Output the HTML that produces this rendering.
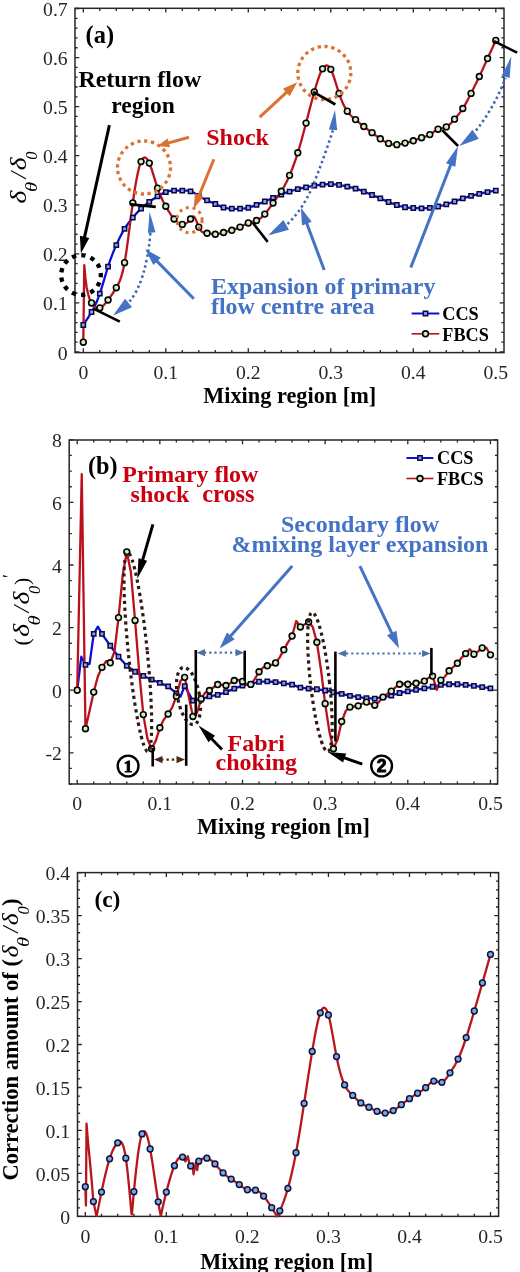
<!DOCTYPE html>
<html><head><meta charset="utf-8"><title>Figure</title>
<style>html,body{margin:0;padding:0;background:#fff;width:520px;height:1272px;overflow:hidden}svg{display:block}</style>
</head><body>
<svg width="520" height="1272" viewBox="0 0 520 1272">
<rect width="520" height="1272" fill="#fff"/>
<rect x="75" y="8.3" width="429" height="344.3" fill="none" stroke="#262626" stroke-width="1.5"/><path d="M83.3 352.6v-4.3M83.3 8.3v4.3M99.8 352.6v-2.6M99.8 8.3v2.6M116.3 352.6v-2.6M116.3 8.3v2.6M132.8 352.6v-2.6M132.8 8.3v2.6M149.3 352.6v-2.6M149.3 8.3v2.6M165.8 352.6v-4.3M165.8 8.3v4.3M182.3 352.6v-2.6M182.3 8.3v2.6M198.8 352.6v-2.6M198.8 8.3v2.6M215.3 352.6v-2.6M215.3 8.3v2.6M231.8 352.6v-2.6M231.8 8.3v2.6M248.3 352.6v-4.3M248.3 8.3v4.3M264.8 352.6v-2.6M264.8 8.3v2.6M281.3 352.6v-2.6M281.3 8.3v2.6M297.8 352.6v-2.6M297.8 8.3v2.6M314.3 352.6v-2.6M314.3 8.3v2.6M330.8 352.6v-4.3M330.8 8.3v4.3M347.3 352.6v-2.6M347.3 8.3v2.6M363.8 352.6v-2.6M363.8 8.3v2.6M380.3 352.6v-2.6M380.3 8.3v2.6M396.8 352.6v-2.6M396.8 8.3v2.6M413.3 352.6v-4.3M413.3 8.3v4.3M429.8 352.6v-2.6M429.8 8.3v2.6M446.3 352.6v-2.6M446.3 8.3v2.6M462.8 352.6v-2.6M462.8 8.3v2.6M479.3 352.6v-2.6M479.3 8.3v2.6M495.8 352.6v-4.3M495.8 8.3v4.3M75 352h4.3M504 352h-4.3M75 342.19h2.6M504 342.19h-2.6M75 332.37h2.6M504 332.37h-2.6M75 322.56h2.6M504 322.56h-2.6M75 312.74h2.6M504 312.74h-2.6M75 302.93h4.3M504 302.93h-4.3M75 293.12h2.6M504 293.12h-2.6M75 283.3h2.6M504 283.3h-2.6M75 273.49h2.6M504 273.49h-2.6M75 263.67h2.6M504 263.67h-2.6M75 253.86h4.3M504 253.86h-4.3M75 244.05h2.6M504 244.05h-2.6M75 234.23h2.6M504 234.23h-2.6M75 224.42h2.6M504 224.42h-2.6M75 214.6h2.6M504 214.6h-2.6M75 204.79h4.3M504 204.79h-4.3M75 194.98h2.6M504 194.98h-2.6M75 185.16h2.6M504 185.16h-2.6M75 175.35h2.6M504 175.35h-2.6M75 165.53h2.6M504 165.53h-2.6M75 155.72h4.3M504 155.72h-4.3M75 145.91h2.6M504 145.91h-2.6M75 136.09h2.6M504 136.09h-2.6M75 126.28h2.6M504 126.28h-2.6M75 116.46h2.6M504 116.46h-2.6M75 106.65h4.3M504 106.65h-4.3M75 96.84h2.6M504 96.84h-2.6M75 87.02h2.6M504 87.02h-2.6M75 77.21h2.6M504 77.21h-2.6M75 67.39h2.6M504 67.39h-2.6M75 57.58h4.3M504 57.58h-4.3M75 47.77h2.6M504 47.77h-2.6M75 37.95h2.6M504 37.95h-2.6M75 28.14h2.6M504 28.14h-2.6M75 18.32h2.6M504 18.32h-2.6M75 8.51h4.3M504 8.51h-4.3" stroke="#262626" stroke-width="1.3" fill="none"/><g font-family="'Liberation Serif','Times New Roman',serif" font-size="19.7" fill="#262626"><text x="83.3" y="378.9" text-anchor="middle">0</text><text x="165.8" y="378.9" text-anchor="middle">0.1</text><text x="248.3" y="378.9" text-anchor="middle">0.2</text><text x="330.8" y="378.9" text-anchor="middle">0.3</text><text x="413.3" y="378.9" text-anchor="middle">0.4</text><text x="495.8" y="378.9" text-anchor="middle">0.5</text><text x="67.7" y="359.5" text-anchor="end">0</text><text x="67.7" y="310.43" text-anchor="end">0.1</text><text x="67.7" y="261.36" text-anchor="end">0.2</text><text x="67.7" y="212.29" text-anchor="end">0.3</text><text x="67.7" y="163.22" text-anchor="end">0.4</text><text x="67.7" y="114.15" text-anchor="end">0.5</text><text x="67.7" y="65.08" text-anchor="end">0.6</text><text x="67.7" y="16.01" text-anchor="end">0.7</text></g>
<path d="M83.3 325.01 L84.12 323.7 L84.95 322.42 L85.77 321.15 L86.6 319.89 L87.42 318.63 L88.25 317.36 L89.08 316.08 L89.9 314.76 L90.72 313.41 L91.55 312.01 L92.38 310.56 L93.2 309.04 L94.03 307.45 L94.85 305.79 L95.67 304.03 L96.5 302.18 L97.33 300.22 L98.15 298.14 L98.97 295.94 L99.8 293.61 L100.62 291.14 L101.45 288.55 L102.28 285.87 L103.1 283.12 L103.92 280.33 L104.75 277.53 L105.57 274.73 L106.4 271.96 L107.22 269.25 L108.05 266.62 L108.88 264.09 L109.7 261.66 L110.53 259.33 L111.35 257.08 L112.17 254.91 L113 252.81 L113.82 250.79 L114.65 248.82 L115.47 246.9 L116.3 245.03 L117.12 243.2 L117.95 241.41 L118.78 239.66 L119.6 237.96 L120.42 236.31 L121.25 234.71 L122.07 233.16 L122.9 231.66 L123.72 230.22 L124.55 228.83 L125.38 227.51 L126.2 226.24 L127.03 225.02 L127.85 223.85 L128.68 222.71 L129.5 221.62 L130.32 220.56 L131.15 219.53 L131.97 218.53 L132.8 217.55 L133.62 216.58 L134.45 215.63 L135.28 214.7 L136.1 213.79 L136.93 212.9 L137.75 212.02 L138.57 211.16 L139.4 210.33 L140.22 209.51 L141.05 208.72 L141.88 207.94 L142.7 207.19 L143.52 206.45 L144.35 205.74 L145.18 205.04 L146 204.37 L146.82 203.71 L147.65 203.07 L148.47 202.45 L149.3 201.85 L150.12 201.26 L150.95 200.68 L151.78 200.13 L152.6 199.58 L153.43 199.04 L154.25 198.51 L155.07 197.99 L155.9 197.47 L156.72 196.96 L157.55 196.45 L158.38 195.94 L159.2 195.43 L160.02 194.94 L160.85 194.45 L161.68 193.98 L162.5 193.54 L163.32 193.11 L164.15 192.72 L164.97 192.36 L165.8 192.03 L166.62 191.75 L167.45 191.5 L168.28 191.28 L169.1 191.1 L169.93 190.95 L170.75 190.83 L171.57 190.73 L172.4 190.66 L173.22 190.6 L174.05 190.56 L174.88 190.53 L175.7 190.52 L176.53 190.52 L177.35 190.52 L178.18 190.53 L179 190.54 L179.82 190.55 L180.65 190.56 L181.48 190.56 L182.3 190.56 L183.12 190.55 L183.95 190.54 L184.77 190.54 L185.6 190.54 L186.43 190.57 L187.25 190.63 L188.07 190.73 L188.9 190.86 L189.72 191.05 L190.55 191.3 L191.38 191.6 L192.2 191.97 L193.03 192.38 L193.85 192.84 L194.68 193.33 L195.5 193.84 L196.32 194.37 L197.15 194.9 L197.98 195.43 L198.8 195.96 L199.62 196.47 L200.45 196.96 L201.28 197.43 L202.1 197.89 L202.92 198.34 L203.75 198.77 L204.57 199.19 L205.4 199.59 L206.22 199.99 L207.05 200.37 L207.88 200.75 L208.7 201.12 L209.52 201.48 L210.35 201.84 L211.18 202.19 L212 202.55 L212.82 202.91 L213.65 203.27 L214.48 203.63 L215.3 204 L216.12 204.38 L216.95 204.77 L217.77 205.15 L218.6 205.53 L219.43 205.9 L220.25 206.26 L221.07 206.61 L221.9 206.93 L222.73 207.22 L223.55 207.49 L224.38 207.72 L225.2 207.92 L226.03 208.1 L226.85 208.24 L227.68 208.37 L228.5 208.47 L229.32 208.55 L230.15 208.62 L230.97 208.67 L231.8 208.72 L232.62 208.75 L233.45 208.77 L234.27 208.79 L235.1 208.8 L235.93 208.8 L236.75 208.8 L237.57 208.79 L238.4 208.77 L239.23 208.74 L240.05 208.72 L240.88 208.68 L241.7 208.64 L242.52 208.58 L243.35 208.52 L244.18 208.44 L245 208.34 L245.82 208.23 L246.65 208.09 L247.48 207.92 L248.3 207.73 L249.12 207.52 L249.95 207.27 L250.78 207.01 L251.6 206.72 L252.43 206.42 L253.25 206.11 L254.07 205.78 L254.9 205.45 L255.72 205.12 L256.55 204.79 L257.38 204.46 L258.2 204.13 L259.02 203.81 L259.85 203.48 L260.68 203.16 L261.5 202.83 L262.32 202.51 L263.15 202.18 L263.98 201.84 L264.8 201.5 L265.62 201.16 L266.45 200.81 L267.27 200.45 L268.1 200.09 L268.93 199.73 L269.75 199.37 L270.57 199.01 L271.4 198.64 L272.23 198.28 L273.05 197.92 L273.88 197.56 L274.7 197.2 L275.53 196.85 L276.35 196.5 L277.18 196.15 L278 195.81 L278.82 195.47 L279.65 195.14 L280.48 194.81 L281.3 194.49 L282.12 194.17 L282.95 193.86 L283.77 193.55 L284.6 193.25 L285.43 192.96 L286.25 192.66 L287.07 192.38 L287.9 192.1 L288.73 191.82 L289.55 191.54 L290.38 191.27 L291.2 191 L292.02 190.74 L292.85 190.48 L293.68 190.23 L294.5 189.98 L295.32 189.75 L296.15 189.52 L296.98 189.3 L297.8 189.09 L298.62 188.89 L299.45 188.7 L300.28 188.51 L301.1 188.34 L301.93 188.16 L302.75 187.99 L303.57 187.83 L304.4 187.66 L305.23 187.49 L306.05 187.32 L306.88 187.15 L307.7 186.97 L308.53 186.79 L309.35 186.62 L310.18 186.44 L311 186.27 L311.82 186.11 L312.65 185.95 L313.48 185.79 L314.3 185.65 L315.12 185.52 L315.95 185.4 L316.78 185.29 L317.6 185.18 L318.43 185.09 L319.25 185 L320.08 184.91 L320.9 184.83 L321.72 184.75 L322.55 184.67 L323.38 184.59 L324.2 184.52 L325.02 184.45 L325.85 184.38 L326.68 184.33 L327.5 184.27 L328.32 184.23 L329.15 184.2 L329.97 184.18 L330.8 184.18 L331.62 184.19 L332.45 184.22 L333.27 184.26 L334.1 184.31 L334.93 184.38 L335.75 184.46 L336.57 184.56 L337.4 184.66 L338.23 184.78 L339.05 184.92 L339.88 185.06 L340.7 185.21 L341.53 185.38 L342.35 185.55 L343.18 185.72 L344 185.9 L344.82 186.08 L345.65 186.27 L346.48 186.45 L347.3 186.63 L348.12 186.81 L348.95 186.99 L349.78 187.17 L350.6 187.36 L351.43 187.54 L352.25 187.74 L353.08 187.94 L353.9 188.14 L354.73 188.36 L355.55 188.6 L356.38 188.84 L357.2 189.1 L358.03 189.38 L358.85 189.66 L359.68 189.95 L360.5 190.26 L361.33 190.57 L362.15 190.89 L362.98 191.21 L363.8 191.54 L364.63 191.88 L365.45 192.21 L366.28 192.56 L367.1 192.9 L367.93 193.25 L368.75 193.59 L369.58 193.94 L370.4 194.29 L371.23 194.63 L372.05 194.98 L372.88 195.32 L373.7 195.66 L374.52 196 L375.35 196.34 L376.18 196.68 L377 197.02 L377.82 197.36 L378.65 197.71 L379.48 198.06 L380.3 198.41 L381.12 198.77 L381.95 199.13 L382.77 199.5 L383.6 199.86 L384.43 200.23 L385.25 200.59 L386.07 200.95 L386.9 201.31 L387.73 201.65 L388.55 201.99 L389.38 202.32 L390.2 202.65 L391.03 202.96 L391.85 203.27 L392.68 203.57 L393.5 203.86 L394.32 204.15 L395.15 204.43 L395.98 204.71 L396.8 204.99 L397.62 205.26 L398.45 205.52 L399.28 205.78 L400.1 206.04 L400.93 206.28 L401.75 206.5 L402.58 206.71 L403.4 206.91 L404.23 207.09 L405.05 207.24 L405.88 207.38 L406.7 207.49 L407.53 207.59 L408.35 207.67 L409.18 207.74 L410 207.8 L410.83 207.85 L411.65 207.89 L412.48 207.94 L413.3 207.98 L414.13 208.02 L414.95 208.07 L415.78 208.11 L416.6 208.16 L417.43 208.2 L418.25 208.24 L419.08 208.27 L419.9 208.3 L420.73 208.31 L421.55 208.32 L422.38 208.32 L423.2 208.31 L424.03 208.29 L424.85 208.26 L425.68 208.22 L426.5 208.17 L427.32 208.11 L428.15 208.05 L428.98 207.97 L429.8 207.88 L430.62 207.79 L431.45 207.68 L432.27 207.56 L433.1 207.44 L433.93 207.31 L434.75 207.17 L435.57 207.01 L436.4 206.85 L437.23 206.69 L438.05 206.51 L438.88 206.32 L439.7 206.13 L440.53 205.92 L441.35 205.71 L442.18 205.49 L443 205.27 L443.82 205.03 L444.65 204.79 L445.48 204.55 L446.3 204.3 L447.12 204.04 L447.95 203.78 L448.78 203.52 L449.6 203.25 L450.43 202.97 L451.25 202.69 L452.08 202.4 L452.9 202.11 L453.73 201.81 L454.55 201.5 L455.38 201.19 L456.2 200.88 L457.03 200.56 L457.85 200.24 L458.68 199.92 L459.5 199.61 L460.33 199.3 L461.15 199 L461.98 198.7 L462.8 198.41 L463.63 198.13 L464.45 197.87 L465.28 197.61 L466.1 197.36 L466.93 197.11 L467.75 196.87 L468.58 196.64 L469.4 196.41 L470.23 196.18 L471.05 195.96 L471.88 195.73 L472.7 195.51 L473.53 195.28 L474.35 195.06 L475.18 194.84 L476 194.63 L476.83 194.41 L477.65 194.2 L478.48 194 L479.3 193.8 L480.12 193.6 L480.95 193.41 L481.77 193.22 L482.6 193.04 L483.43 192.87 L484.25 192.69 L485.07 192.52 L485.9 192.35 L486.73 192.19 L487.55 192.03 L488.38 191.87 L489.2 191.72 L490.03 191.57 L490.85 191.42 L491.68 191.27 L492.5 191.13 L493.32 190.98 L494.15 190.84 L494.98 190.7 L495.8 190.56" fill="none" stroke="#0A10DC" stroke-width="2.3" stroke-linejoin="round"/>
<path d="M83.3 342.19 L84.29 265.15 L85.36 277.41 L86.6 287.23 L88.25 294.59 L89.9 299.99 L91.55 302.93 L92.38 304.29 L93.2 305.43 L94.03 306.35 L94.85 307.08 L95.67 307.62 L96.5 307.98 L97.33 308.17 L98.15 308.2 L98.97 308.09 L99.8 307.84 L100.62 307.46 L101.45 306.96 L102.28 306.35 L103.1 305.65 L103.92 304.86 L104.75 304 L105.58 303.07 L106.4 302.08 L107.22 301.05 L108.05 299.99 L108.88 298.89 L109.7 297.77 L110.53 296.63 L111.35 295.45 L112.17 294.24 L113 293.01 L113.82 291.74 L114.65 290.43 L115.47 289.09 L116.3 287.72 L117.12 286.3 L117.95 284.78 L118.78 283.12 L119.6 281.25 L120.43 279.12 L121.25 276.68 L122.07 273.88 L122.9 270.65 L123.72 266.94 L124.55 262.69 L125.38 257.88 L126.2 252.58 L127.03 246.86 L127.85 240.82 L128.68 234.55 L129.5 228.13 L130.32 221.67 L131.15 215.23 L131.97 208.92 L132.8 202.83 L133.62 197.02 L134.45 191.54 L135.28 186.4 L136.1 181.62 L136.93 177.22 L137.75 173.22 L138.57 169.64 L139.4 166.5 L140.22 163.81 L141.05 161.61 L141.88 159.89 L142.7 158.65 L143.52 157.86 L144.35 157.5 L145.18 157.55 L146 157.98 L146.82 158.77 L147.65 159.9 L148.47 161.34 L149.3 163.08 L150.12 165.09 L150.95 167.32 L151.77 169.73 L152.6 172.29 L153.43 174.94 L154.25 177.64 L155.07 180.35 L155.9 183.03 L156.72 185.63 L157.55 188.11 L158.38 190.43 L159.2 192.6 L160.02 194.63 L160.85 196.54 L161.68 198.35 L162.5 200.06 L163.32 201.69 L164.15 203.26 L164.97 204.78 L165.8 206.26 L166.62 207.72 L167.45 209.16 L168.27 210.56 L169.1 211.93 L169.93 213.25 L170.75 214.53 L171.57 215.75 L172.4 216.9 L173.22 218 L174.05 219.02 L174.88 219.97 L175.7 220.83 L176.53 221.61 L177.35 222.3 L178.17 222.9 L179 223.41 L179.82 223.82 L180.65 224.12 L181.47 224.32 L182.3 224.42 L183.12 224.4 L183.95 224.27 L184.77 224.02 L185.6 223.66 L186.43 223.19 L187.25 222.59 L188.07 221.88 L188.9 221.05 L189.72 220.1 L190.55 219.02 L191.38 217.87 L192.2 216.88 L193.03 216.34 L193.85 216.51 L194.68 217.46 L195.5 218.98 L196.32 220.9 L197.15 223.03 L197.98 225.16 L198.8 227.12 L199.62 228.74 L200.45 230.03 L201.28 231.04 L202.1 231.79 L202.93 232.33 L203.75 232.69 L204.58 232.93 L205.4 233.08 L206.23 233.17 L207.05 233.25 L207.88 233.35 L208.7 233.47 L209.53 233.6 L210.35 233.74 L211.18 233.88 L212 234 L212.82 234.11 L213.65 234.18 L214.48 234.23 L215.3 234.23 L216.12 234.19 L216.95 234.1 L217.77 233.98 L218.6 233.82 L219.43 233.63 L220.25 233.43 L221.07 233.21 L221.9 232.98 L222.73 232.75 L223.55 232.51 L224.38 232.29 L225.2 232.07 L226.03 231.86 L226.85 231.64 L227.68 231.43 L228.5 231.22 L229.32 231 L230.15 230.78 L230.98 230.55 L231.8 230.31 L232.62 230.06 L233.45 229.8 L234.28 229.52 L235.1 229.23 L235.93 228.93 L236.75 228.6 L237.57 228.26 L238.4 227.9 L239.23 227.52 L240.05 227.12 L240.88 226.69 L241.7 226.25 L242.52 225.8 L243.35 225.34 L244.18 224.89 L245 224.46 L245.82 224.03 L246.65 223.64 L247.48 223.27 L248.3 222.95 L249.12 222.66 L249.95 222.41 L250.78 222.19 L251.6 221.98 L252.43 221.78 L253.25 221.57 L254.07 221.35 L254.9 221.1 L255.73 220.82 L256.55 220.49 L257.38 220.11 L258.2 219.68 L259.03 219.19 L259.85 218.64 L260.68 218.03 L261.5 217.37 L262.33 216.64 L263.15 215.86 L263.98 215.02 L264.8 214.11 L265.62 213.15 L266.45 212.13 L267.27 211.07 L268.1 209.97 L268.93 208.84 L269.75 207.68 L270.57 206.52 L271.4 205.35 L272.23 204.18 L273.05 203.02 L273.88 201.88 L274.7 200.75 L275.53 199.63 L276.35 198.5 L277.18 197.37 L278 196.21 L278.82 195.04 L279.65 193.83 L280.48 192.59 L281.3 191.3 L282.12 189.96 L282.95 188.56 L283.78 187.11 L284.6 185.61 L285.43 184.05 L286.25 182.43 L287.08 180.75 L287.9 179.01 L288.73 177.21 L289.55 175.35 L290.38 173.42 L291.2 171.42 L292.02 169.36 L292.85 167.22 L293.68 165.01 L294.5 162.72 L295.32 160.36 L296.15 157.91 L296.98 155.39 L297.8 152.78 L298.62 150.08 L299.45 147.3 L300.28 144.46 L301.1 141.54 L301.93 138.57 L302.75 135.55 L303.57 132.48 L304.4 129.38 L305.23 126.24 L306.05 123.09 L306.88 119.92 L307.7 116.74 L308.53 113.56 L309.35 110.38 L310.18 107.22 L311 104.09 L311.82 100.98 L312.65 97.92 L313.48 94.9 L314.3 91.93 L315.12 89.02 L315.95 86.2 L316.78 83.48 L317.6 80.88 L318.43 78.41 L319.25 76.11 L320.08 73.98 L320.9 72.05 L321.73 70.34 L322.55 68.87 L323.38 67.65 L324.2 66.69 L325.03 66 L325.85 65.59 L326.68 65.47 L327.5 65.64 L328.33 66.1 L329.15 66.87 L329.97 67.95 L330.8 69.36 L331.62 71.08 L332.45 73.07 L333.27 75.3 L334.1 77.72 L334.93 80.27 L335.75 82.91 L336.57 85.59 L337.4 88.26 L338.23 90.88 L339.05 93.4 L339.88 95.78 L340.7 98.02 L341.53 100.11 L342.35 102.07 L343.18 103.9 L344 105.6 L344.82 107.18 L345.65 108.64 L346.48 109.98 L347.3 111.21 L348.12 112.34 L348.95 113.38 L349.78 114.32 L350.6 115.2 L351.43 116.02 L352.25 116.79 L353.08 117.52 L353.9 118.23 L354.73 118.92 L355.55 119.6 L356.38 120.3 L357.2 121 L358.03 121.7 L358.85 122.41 L359.68 123.11 L360.5 123.81 L361.33 124.5 L362.15 125.19 L362.98 125.86 L363.8 126.52 L364.63 127.17 L365.45 127.8 L366.28 128.42 L367.1 129.04 L367.93 129.64 L368.75 130.24 L369.58 130.84 L370.4 131.45 L371.23 132.05 L372.05 132.66 L372.88 133.27 L373.7 133.89 L374.53 134.52 L375.35 135.14 L376.18 135.76 L377 136.38 L377.83 137 L378.65 137.61 L379.48 138.2 L380.3 138.79 L381.13 139.36 L381.95 139.92 L382.77 140.46 L383.6 140.97 L384.43 141.46 L385.25 141.93 L386.07 142.36 L386.9 142.76 L387.73 143.13 L388.55 143.45 L389.38 143.74 L390.2 143.98 L391.03 144.19 L391.85 144.36 L392.68 144.49 L393.5 144.58 L394.32 144.64 L395.15 144.67 L395.98 144.67 L396.8 144.63 L397.62 144.56 L398.45 144.47 L399.28 144.35 L400.1 144.22 L400.93 144.06 L401.75 143.89 L402.58 143.7 L403.4 143.51 L404.23 143.31 L405.05 143.11 L405.88 142.91 L406.7 142.7 L407.53 142.49 L408.35 142.28 L409.18 142.06 L410 141.83 L410.83 141.59 L411.65 141.34 L412.48 141.08 L413.3 140.8 L414.13 140.51 L414.95 140.2 L415.78 139.89 L416.6 139.56 L417.43 139.24 L418.25 138.92 L419.08 138.6 L419.9 138.29 L420.73 137.99 L421.55 137.71 L422.38 137.45 L423.2 137.2 L424.03 136.95 L424.85 136.69 L425.68 136.43 L426.5 136.14 L427.33 135.82 L428.15 135.47 L428.98 135.07 L429.8 134.62 L430.63 134.11 L431.45 133.55 L432.28 132.97 L433.1 132.36 L433.93 131.76 L434.75 131.16 L435.57 130.6 L436.4 130.08 L437.23 129.61 L438.05 129.22 L438.88 128.91 L439.7 128.67 L440.53 128.48 L441.35 128.32 L442.18 128.17 L443 128.01 L443.82 127.82 L444.65 127.59 L445.48 127.3 L446.3 126.92 L447.12 126.44 L447.95 125.87 L448.78 125.21 L449.6 124.48 L450.43 123.69 L451.25 122.85 L452.08 121.97 L452.9 121.05 L453.73 120.11 L454.55 119.16 L455.38 118.21 L456.2 117.25 L457.03 116.27 L457.85 115.28 L458.68 114.25 L459.5 113.2 L460.33 112.1 L461.15 110.96 L461.98 109.77 L462.8 108.51 L463.63 107.2 L464.45 105.83 L465.28 104.4 L466.1 102.92 L466.93 101.41 L467.75 99.85 L468.58 98.27 L469.4 96.66 L470.23 95.04 L471.05 93.4 L471.88 91.76 L472.7 90.1 L473.53 88.44 L474.35 86.77 L475.18 85.09 L476 83.4 L476.83 81.7 L477.65 79.99 L478.48 78.26 L479.3 76.52 L480.13 74.77 L480.95 73 L481.78 71.23 L482.6 69.44 L483.43 67.64 L484.25 65.84 L485.08 64.02 L485.9 62.21 L486.73 60.39 L487.55 58.56 L488.38 56.73 L489.2 54.91 L490.03 53.08 L490.85 51.26 L491.68 49.43 L492.5 47.61 L493.32 45.8 L494.15 43.99 L494.98 42.2 L495.8 40.41" fill="none" stroke="#BA121C" stroke-width="2.3" stroke-linejoin="round"/>
<path d="M81.15 322.86h4.3v4.3h-4.3zM89.4 309.86h4.3v4.3h-4.3zM97.65 291.46h4.3v4.3h-4.3zM105.9 264.47h4.3v4.3h-4.3zM114.15 242.88h4.3v4.3h-4.3zM122.4 226.68h4.3v4.3h-4.3zM130.65 215.4h4.3v4.3h-4.3zM138.9 206.57h4.3v4.3h-4.3zM147.15 199.7h4.3v4.3h-4.3zM155.4 194.3h4.3v4.3h-4.3zM163.65 189.88h4.3v4.3h-4.3zM171.9 188.41h4.3v4.3h-4.3zM180.15 188.41h4.3v4.3h-4.3zM188.4 189.15h4.3v4.3h-4.3zM196.65 193.81h4.3v4.3h-4.3zM204.9 198.22h4.3v4.3h-4.3zM213.15 201.85h4.3v4.3h-4.3zM221.4 205.34h4.3v4.3h-4.3zM229.65 206.57h4.3v4.3h-4.3zM237.9 206.57h4.3v4.3h-4.3zM246.15 205.58h4.3v4.3h-4.3zM254.4 202.64h4.3v4.3h-4.3zM262.65 199.35h4.3v4.3h-4.3zM270.9 195.77h4.3v4.3h-4.3zM279.15 192.34h4.3v4.3h-4.3zM287.4 189.39h4.3v4.3h-4.3zM295.65 186.94h4.3v4.3h-4.3zM303.9 185.17h4.3v4.3h-4.3zM312.15 183.5h4.3v4.3h-4.3zM320.4 182.52h4.3v4.3h-4.3zM328.65 182.03h4.3v4.3h-4.3zM336.9 182.77h4.3v4.3h-4.3zM345.15 184.48h4.3v4.3h-4.3zM353.4 186.45h4.3v4.3h-4.3zM361.65 189.39h4.3v4.3h-4.3zM369.9 192.83h4.3v4.3h-4.3zM378.15 196.26h4.3v4.3h-4.3zM386.4 199.84h4.3v4.3h-4.3zM394.65 202.84h4.3v4.3h-4.3zM402.9 205.09h4.3v4.3h-4.3zM411.15 205.83h4.3v4.3h-4.3zM419.4 206.17h4.3v4.3h-4.3zM427.65 205.73h4.3v4.3h-4.3zM435.9 204.36h4.3v4.3h-4.3zM444.15 202.15h4.3v4.3h-4.3zM452.4 199.35h4.3v4.3h-4.3zM460.65 196.26h4.3v4.3h-4.3zM468.9 193.81h4.3v4.3h-4.3zM477.15 191.65h4.3v4.3h-4.3zM485.4 189.88h4.3v4.3h-4.3zM493.65 188.41h4.3v4.3h-4.3z" fill="#929CEE" stroke="#08083C" stroke-width="1.5"/>
<g fill="#CDEFC4" stroke="#000" stroke-width="1.6"><circle cx="83.3" cy="342.19" r="2.9"/><circle cx="91.55" cy="302.93" r="2.9"/><circle cx="99.8" cy="307.84" r="2.9"/><circle cx="108.05" cy="299.99" r="2.9"/><circle cx="116.3" cy="287.72" r="2.9"/><circle cx="124.55" cy="262.69" r="2.9"/><circle cx="132.8" cy="202.83" r="2.9"/><circle cx="141.05" cy="161.61" r="2.9"/><circle cx="149.3" cy="163.08" r="2.9"/><circle cx="157.55" cy="188.11" r="2.9"/><circle cx="165.8" cy="206.26" r="2.9"/><circle cx="174.05" cy="219.02" r="2.9"/><circle cx="182.3" cy="224.42" r="2.9"/><circle cx="190.55" cy="219.02" r="2.9"/><circle cx="198.8" cy="227.12" r="2.9"/><circle cx="207.05" cy="233.25" r="2.9"/><circle cx="215.3" cy="234.23" r="2.9"/><circle cx="223.55" cy="232.51" r="2.9"/><circle cx="231.8" cy="230.31" r="2.9"/><circle cx="240.05" cy="227.12" r="2.9"/><circle cx="248.3" cy="222.95" r="2.9"/><circle cx="256.55" cy="220.49" r="2.9"/><circle cx="264.8" cy="214.11" r="2.9"/><circle cx="273.05" cy="203.02" r="2.9"/><circle cx="281.3" cy="191.3" r="2.9"/><circle cx="289.55" cy="175.35" r="2.9"/><circle cx="297.8" cy="152.78" r="2.9"/><circle cx="306.05" cy="123.09" r="2.9"/><circle cx="314.3" cy="91.93" r="2.9"/><circle cx="322.55" cy="68.87" r="2.9"/><circle cx="330.8" cy="69.36" r="2.9"/><circle cx="339.05" cy="93.4" r="2.9"/><circle cx="347.3" cy="111.21" r="2.9"/><circle cx="355.55" cy="119.6" r="2.9"/><circle cx="363.8" cy="126.52" r="2.9"/><circle cx="372.05" cy="132.66" r="2.9"/><circle cx="380.3" cy="138.79" r="2.9"/><circle cx="388.55" cy="143.45" r="2.9"/><circle cx="396.8" cy="144.63" r="2.9"/><circle cx="405.05" cy="143.11" r="2.9"/><circle cx="413.3" cy="140.8" r="2.9"/><circle cx="421.55" cy="137.71" r="2.9"/><circle cx="429.8" cy="134.62" r="2.9"/><circle cx="438.05" cy="129.22" r="2.9"/><circle cx="446.3" cy="126.92" r="2.9"/><circle cx="454.55" cy="119.16" r="2.9"/><circle cx="462.8" cy="108.51" r="2.9"/><circle cx="471.05" cy="93.4" r="2.9"/><circle cx="479.3" cy="76.52" r="2.9"/><circle cx="487.55" cy="58.56" r="2.9"/><circle cx="495.8" cy="40.41" r="2.9"/></g>
<rect x="69.2" y="440" width="428.4" height="344" fill="none" stroke="#262626" stroke-width="1.5"/><path d="M77.2 784v-4.3M77.2 440v4.3M93.73 784v-2.6M93.73 440v2.6M110.26 784v-2.6M110.26 440v2.6M126.79 784v-2.6M126.79 440v2.6M143.32 784v-2.6M143.32 440v2.6M159.85 784v-4.3M159.85 440v4.3M176.38 784v-2.6M176.38 440v2.6M192.91 784v-2.6M192.91 440v2.6M209.44 784v-2.6M209.44 440v2.6M225.97 784v-2.6M225.97 440v2.6M242.5 784v-4.3M242.5 440v4.3M259.03 784v-2.6M259.03 440v2.6M275.56 784v-2.6M275.56 440v2.6M292.09 784v-2.6M292.09 440v2.6M308.62 784v-2.6M308.62 440v2.6M325.15 784v-4.3M325.15 440v4.3M341.68 784v-2.6M341.68 440v2.6M358.21 784v-2.6M358.21 440v2.6M374.74 784v-2.6M374.74 440v2.6M391.27 784v-2.6M391.27 440v2.6M407.8 784v-4.3M407.8 440v4.3M424.33 784v-2.6M424.33 440v2.6M440.86 784v-2.6M440.86 440v2.6M457.39 784v-2.6M457.39 440v2.6M473.92 784v-2.6M473.92 440v2.6M490.45 784v-4.3M490.45 440v4.3M69.2 784.1h2.6M497.6 784.1h-2.6M69.2 768.45h2.6M497.6 768.45h-2.6M69.2 752.8h4.3M497.6 752.8h-4.3M69.2 737.15h2.6M497.6 737.15h-2.6M69.2 721.5h2.6M497.6 721.5h-2.6M69.2 705.85h2.6M497.6 705.85h-2.6M69.2 690.2h4.3M497.6 690.2h-4.3M69.2 674.55h2.6M497.6 674.55h-2.6M69.2 658.9h2.6M497.6 658.9h-2.6M69.2 643.25h2.6M497.6 643.25h-2.6M69.2 627.6h4.3M497.6 627.6h-4.3M69.2 611.95h2.6M497.6 611.95h-2.6M69.2 596.3h2.6M497.6 596.3h-2.6M69.2 580.65h2.6M497.6 580.65h-2.6M69.2 565h4.3M497.6 565h-4.3M69.2 549.35h2.6M497.6 549.35h-2.6M69.2 533.7h2.6M497.6 533.7h-2.6M69.2 518.05h2.6M497.6 518.05h-2.6M69.2 502.4h4.3M497.6 502.4h-4.3M69.2 486.75h2.6M497.6 486.75h-2.6M69.2 471.1h2.6M497.6 471.1h-2.6M69.2 455.45h2.6M497.6 455.45h-2.6M69.2 439.8h4.3M497.6 439.8h-4.3" stroke="#262626" stroke-width="1.3" fill="none"/><g font-family="'Liberation Serif','Times New Roman',serif" font-size="19.7" fill="#262626"><text x="77.2" y="810.3" text-anchor="middle">0</text><text x="159.85" y="810.3" text-anchor="middle">0.1</text><text x="242.5" y="810.3" text-anchor="middle">0.2</text><text x="325.15" y="810.3" text-anchor="middle">0.3</text><text x="407.8" y="810.3" text-anchor="middle">0.4</text><text x="490.45" y="810.3" text-anchor="middle">0.5</text><text x="61.9" y="760.3" text-anchor="end">-2</text><text x="61.9" y="697.7" text-anchor="end">0</text><text x="61.9" y="635.1" text-anchor="end">2</text><text x="61.9" y="572.5" text-anchor="end">4</text><text x="61.9" y="509.9" text-anchor="end">6</text><text x="61.9" y="447.3" text-anchor="end">8</text></g>
<path d="M77.2 690.2 L81.33 656.71 L85.47 664.85 L89.6 663.91 L93.73 633.86 L97.86 626.66 L102 633.86 L106.13 639.81 L110.26 645.75 L114.39 651.23 L118.53 656.71 L122.66 661.25 L126.79 665.79 L130.92 668.76 L135.06 671.73 L139.19 673.77 L143.32 675.8 L147.45 677.68 L151.58 679.56 L155.72 681.2 L159.85 682.84 L163.98 684.64 L168.12 686.44 L172.25 689.89 L176.38 693.33 L180.51 696.46 L184.65 686.13 L188.78 693.33 L192.91 700.53 L197.04 699.9 L201.18 699.28 L205.31 697.87 L209.44 696.46 L213.57 695.68 L217.71 694.9 L221.84 693.49 L225.97 692.08 L230.1 690.36 L234.24 688.63 L238.37 687.07 L242.5 685.5 L246.63 684.72 L250.76 683.94 L254.9 682.84 L259.03 681.75 L263.16 681.59 L267.3 681.44 L271.43 681.75 L275.56 682.06 L279.69 682.69 L283.82 683.31 L287.96 683.94 L292.09 684.57 L296.22 686.13 L300.36 687.7 L304.49 688.17 L308.62 688.63 L312.75 688.95 L316.88 689.26 L321.02 689.89 L325.15 690.51 L329.28 691.37 L333.41 692.23 L337.55 693.1 L341.68 693.96 L345.81 694.9 L349.94 695.83 L354.08 696.46 L358.21 697.09 L362.34 697.56 L366.47 698.03 L370.61 698.34 L374.74 698.65 L378.87 697.87 L383 697.09 L387.14 696.3 L391.27 695.52 L395.4 694.27 L399.54 693.02 L403.67 692.23 L407.8 691.45 L411.93 690.67 L416.06 689.89 L420.2 689.1 L424.33 688.32 L428.46 687.54 L432.59 686.76 L436.73 685.82 L440.86 684.88 L444.99 684.57 L449.12 684.25 L453.26 684.25 L457.39 684.25 L461.52 684.57 L465.65 684.88 L469.79 685.35 L473.92 685.82 L478.05 686.44 L482.19 687.07 L486.32 687.7 L490.45 688.32" fill="none" stroke="#0A10DC" stroke-width="2.3" stroke-linejoin="round"/>
<path d="M77.2 690.2 L81.75 474.23 L85.47 728.7 L89.6 710.7 L93.73 692.08 L97.86 676.43 L102 667.35 L106.13 661.09 L110.26 662.81 L114.39 652.01 L118.53 617.58 L122.66 575.55 L126.79 551.85 L130.92 572.32 L135.06 620.4 L139.19 671.93 L143.32 714.61 L147.45 738.72 L151.58 748.73 L155.72 740.86 L159.85 727.76 L163.98 719.34 L168.12 713.99 L172.25 707.41 L176.38 696.15 L180.51 680.8 L184.65 677.37 L188.78 696.46 L192.91 716.49 L197.04 712.72 L201.18 698.96 L205.31 692.48 L209.44 690.51 L213.57 687.25 L217.71 684.57 L221.84 684.94 L225.97 685.5 L230.1 683.32 L234.24 680.5 L238.37 679.8 L242.5 681.44 L246.63 684.28 L250.76 684.41 L254.9 678.9 L259.03 671.73 L263.16 667.44 L267.3 665.79 L271.43 665.14 L275.56 662.97 L279.69 657.37 L283.82 649.82 L287.96 642.4 L292.09 636.05 L296.22 621.03 L300.36 626.97 L304.49 624.47 L308.62 621.97 L312.75 627.02 L316.88 642.31 L321.02 669.96 L325.15 703.66 L329.28 730.89 L333.41 748.73 L337.55 739.6 L341.68 721.5 L345.81 710.74 L349.94 707.1 L354.08 706.49 L358.21 705.85 L362.34 703.47 L366.47 702.09 L370.61 703.99 L374.74 705.22 L378.87 701.98 L383 697.09 L387.14 693.88 L391.27 691.14 L395.4 687.33 L399.54 684.25 L403.67 683.74 L407.8 684.25 L411.93 683.98 L416.06 683.31 L420.2 682.75 L424.33 681.12 L428.46 677.81 L432.59 676.12 L436.73 689.89 L440.86 680.18 L444.99 676.5 L449.12 670.79 L453.26 666.99 L457.39 663.28 L461.52 657.74 L465.65 653.58 L469.79 649.2 L473.92 654.21 L478.05 651.47 L482.19 647.95 L486.32 647.71 L490.45 654.83" fill="none" stroke="#BA121C" stroke-width="2.3" stroke-linejoin="round"/>
<path d="M75.05 688.05h4.3v4.3h-4.3zM83.31 662.7h4.3v4.3h-4.3zM91.58 631.71h4.3v4.3h-4.3zM99.84 631.71h4.3v4.3h-4.3zM108.11 643.6h4.3v4.3h-4.3zM116.38 654.56h4.3v4.3h-4.3zM124.64 663.64h4.3v4.3h-4.3zM132.91 669.58h4.3v4.3h-4.3zM141.17 673.65h4.3v4.3h-4.3zM149.43 677.41h4.3v4.3h-4.3zM157.7 680.69h4.3v4.3h-4.3zM165.97 684.29h4.3v4.3h-4.3zM174.23 691.18h4.3v4.3h-4.3zM182.5 683.98h4.3v4.3h-4.3zM190.76 698.38h4.3v4.3h-4.3zM199.03 697.13h4.3v4.3h-4.3zM207.29 694.31h4.3v4.3h-4.3zM215.56 692.75h4.3v4.3h-4.3zM223.82 689.93h4.3v4.3h-4.3zM232.09 686.49h4.3v4.3h-4.3zM240.35 683.36h4.3v4.3h-4.3zM248.61 681.79h4.3v4.3h-4.3zM256.88 679.6h4.3v4.3h-4.3zM265.15 679.29h4.3v4.3h-4.3zM273.41 679.91h4.3v4.3h-4.3zM281.68 681.16h4.3v4.3h-4.3zM289.94 682.42h4.3v4.3h-4.3zM298.21 685.55h4.3v4.3h-4.3zM306.47 686.49h4.3v4.3h-4.3zM314.74 687.11h4.3v4.3h-4.3zM323 688.36h4.3v4.3h-4.3zM331.26 690.08h4.3v4.3h-4.3zM339.53 691.81h4.3v4.3h-4.3zM347.8 693.68h4.3v4.3h-4.3zM356.06 694.94h4.3v4.3h-4.3zM364.32 695.88h4.3v4.3h-4.3zM372.59 696.5h4.3v4.3h-4.3zM380.86 694.94h4.3v4.3h-4.3zM389.12 693.37h4.3v4.3h-4.3zM397.39 690.87h4.3v4.3h-4.3zM405.65 689.3h4.3v4.3h-4.3zM413.91 687.74h4.3v4.3h-4.3zM422.18 686.17h4.3v4.3h-4.3zM430.44 684.61h4.3v4.3h-4.3zM438.71 682.73h4.3v4.3h-4.3zM446.98 682.1h4.3v4.3h-4.3zM455.24 682.1h4.3v4.3h-4.3zM463.5 682.73h4.3v4.3h-4.3zM471.77 683.67h4.3v4.3h-4.3zM480.04 684.92h4.3v4.3h-4.3zM488.3 686.17h4.3v4.3h-4.3z" fill="#929CEE" stroke="#08083C" stroke-width="1.5"/>
<g fill="#CDEFC4" stroke="#000" stroke-width="1.6"><circle cx="77.2" cy="690.2" r="2.9"/><circle cx="85.47" cy="728.7" r="2.9"/><circle cx="93.73" cy="692.08" r="2.9"/><circle cx="102" cy="667.35" r="2.9"/><circle cx="110.26" cy="662.81" r="2.9"/><circle cx="118.53" cy="617.58" r="2.9"/><circle cx="126.79" cy="551.85" r="2.9"/><circle cx="135.06" cy="620.4" r="2.9"/><circle cx="143.32" cy="714.61" r="2.9"/><circle cx="151.58" cy="748.73" r="2.9"/><circle cx="159.85" cy="727.76" r="2.9"/><circle cx="168.12" cy="713.99" r="2.9"/><circle cx="176.38" cy="696.15" r="2.9"/><circle cx="184.65" cy="677.37" r="2.9"/><circle cx="192.91" cy="716.49" r="2.9"/><circle cx="201.18" cy="698.96" r="2.9"/><circle cx="209.44" cy="690.51" r="2.9"/><circle cx="217.71" cy="684.57" r="2.9"/><circle cx="225.97" cy="685.5" r="2.9"/><circle cx="234.24" cy="680.5" r="2.9"/><circle cx="242.5" cy="681.44" r="2.9"/><circle cx="250.76" cy="684.41" r="2.9"/><circle cx="259.03" cy="671.73" r="2.9"/><circle cx="267.3" cy="665.79" r="2.9"/><circle cx="275.56" cy="662.97" r="2.9"/><circle cx="283.82" cy="649.82" r="2.9"/><circle cx="292.09" cy="636.05" r="2.9"/><circle cx="300.36" cy="626.97" r="2.9"/><circle cx="308.62" cy="621.97" r="2.9"/><circle cx="316.88" cy="642.31" r="2.9"/><circle cx="325.15" cy="703.66" r="2.9"/><circle cx="333.41" cy="748.73" r="2.9"/><circle cx="341.68" cy="721.5" r="2.9"/><circle cx="349.94" cy="707.1" r="2.9"/><circle cx="358.21" cy="705.85" r="2.9"/><circle cx="366.47" cy="702.09" r="2.9"/><circle cx="374.74" cy="705.22" r="2.9"/><circle cx="383" cy="697.09" r="2.9"/><circle cx="391.27" cy="691.14" r="2.9"/><circle cx="399.54" cy="684.25" r="2.9"/><circle cx="407.8" cy="684.25" r="2.9"/><circle cx="416.06" cy="683.31" r="2.9"/><circle cx="424.33" cy="681.12" r="2.9"/><circle cx="432.59" cy="676.12" r="2.9"/><circle cx="440.86" cy="680.18" r="2.9"/><circle cx="449.12" cy="670.79" r="2.9"/><circle cx="457.39" cy="663.28" r="2.9"/><circle cx="465.65" cy="653.58" r="2.9"/><circle cx="473.92" cy="654.21" r="2.9"/><circle cx="482.19" cy="647.95" r="2.9"/><circle cx="490.45" cy="654.83" r="2.9"/></g>
<rect x="77.5" y="872.6" width="421.1" height="343.8" fill="none" stroke="#262626" stroke-width="1.5"/><path d="M85.3 1216.4v-4.3M85.3 872.6v4.3M101.51 1216.4v-2.6M101.51 872.6v2.6M117.72 1216.4v-2.6M117.72 872.6v2.6M133.92 1216.4v-2.6M133.92 872.6v2.6M150.13 1216.4v-2.6M150.13 872.6v2.6M166.34 1216.4v-4.3M166.34 872.6v4.3M182.55 1216.4v-2.6M182.55 872.6v2.6M198.76 1216.4v-2.6M198.76 872.6v2.6M214.96 1216.4v-2.6M214.96 872.6v2.6M231.17 1216.4v-2.6M231.17 872.6v2.6M247.38 1216.4v-4.3M247.38 872.6v4.3M263.59 1216.4v-2.6M263.59 872.6v2.6M279.8 1216.4v-2.6M279.8 872.6v2.6M296 1216.4v-2.6M296 872.6v2.6M312.21 1216.4v-2.6M312.21 872.6v2.6M328.42 1216.4v-4.3M328.42 872.6v4.3M344.63 1216.4v-2.6M344.63 872.6v2.6M360.84 1216.4v-2.6M360.84 872.6v2.6M377.04 1216.4v-2.6M377.04 872.6v2.6M393.25 1216.4v-2.6M393.25 872.6v2.6M409.46 1216.4v-4.3M409.46 872.6v4.3M425.67 1216.4v-2.6M425.67 872.6v2.6M441.88 1216.4v-2.6M441.88 872.6v2.6M458.08 1216.4v-2.6M458.08 872.6v2.6M474.29 1216.4v-2.6M474.29 872.6v2.6M490.5 1216.4v-4.3M490.5 872.6v4.3M77.5 1216.4h4.3M498.6 1216.4h-4.3M77.5 1207.81h2.6M498.6 1207.81h-2.6M77.5 1199.21h2.6M498.6 1199.21h-2.6M77.5 1190.62h2.6M498.6 1190.62h-2.6M77.5 1182.02h2.6M498.6 1182.02h-2.6M77.5 1173.43h4.3M498.6 1173.43h-4.3M77.5 1164.83h2.6M498.6 1164.83h-2.6M77.5 1156.24h2.6M498.6 1156.24h-2.6M77.5 1147.64h2.6M498.6 1147.64h-2.6M77.5 1139.05h2.6M498.6 1139.05h-2.6M77.5 1130.45h4.3M498.6 1130.45h-4.3M77.5 1121.86h2.6M498.6 1121.86h-2.6M77.5 1113.26h2.6M498.6 1113.26h-2.6M77.5 1104.67h2.6M498.6 1104.67h-2.6M77.5 1096.07h2.6M498.6 1096.07h-2.6M77.5 1087.48h4.3M498.6 1087.48h-4.3M77.5 1078.88h2.6M498.6 1078.88h-2.6M77.5 1070.29h2.6M498.6 1070.29h-2.6M77.5 1061.69h2.6M498.6 1061.69h-2.6M77.5 1053.1h2.6M498.6 1053.1h-2.6M77.5 1044.5h4.3M498.6 1044.5h-4.3M77.5 1035.91h2.6M498.6 1035.91h-2.6M77.5 1027.31h2.6M498.6 1027.31h-2.6M77.5 1018.72h2.6M498.6 1018.72h-2.6M77.5 1010.12h2.6M498.6 1010.12h-2.6M77.5 1001.53h4.3M498.6 1001.53h-4.3M77.5 992.93h2.6M498.6 992.93h-2.6M77.5 984.34h2.6M498.6 984.34h-2.6M77.5 975.74h2.6M498.6 975.74h-2.6M77.5 967.15h2.6M498.6 967.15h-2.6M77.5 958.55h4.3M498.6 958.55h-4.3M77.5 949.96h2.6M498.6 949.96h-2.6M77.5 941.36h2.6M498.6 941.36h-2.6M77.5 932.77h2.6M498.6 932.77h-2.6M77.5 924.17h2.6M498.6 924.17h-2.6M77.5 915.58h4.3M498.6 915.58h-4.3M77.5 906.98h2.6M498.6 906.98h-2.6M77.5 898.39h2.6M498.6 898.39h-2.6M77.5 889.79h2.6M498.6 889.79h-2.6M77.5 881.2h2.6M498.6 881.2h-2.6M77.5 872.6h4.3M498.6 872.6h-4.3" stroke="#262626" stroke-width="1.3" fill="none"/><g font-family="'Liberation Serif','Times New Roman',serif" font-size="19.7" fill="#262626"><text x="85.3" y="1242.7" text-anchor="middle">0</text><text x="166.34" y="1242.7" text-anchor="middle">0.1</text><text x="247.38" y="1242.7" text-anchor="middle">0.2</text><text x="328.42" y="1242.7" text-anchor="middle">0.3</text><text x="409.46" y="1242.7" text-anchor="middle">0.4</text><text x="490.5" y="1242.7" text-anchor="middle">0.5</text><text x="70.2" y="1223.9" text-anchor="end">0</text><text x="70.2" y="1180.93" text-anchor="end">0.05</text><text x="70.2" y="1137.95" text-anchor="end">0.1</text><text x="70.2" y="1094.98" text-anchor="end">0.15</text><text x="70.2" y="1052" text-anchor="end">0.2</text><text x="70.2" y="1009.03" text-anchor="end">0.25</text><text x="70.2" y="966.05" text-anchor="end">0.3</text><text x="70.2" y="923.08" text-anchor="end">0.35</text><text x="70.2" y="880.1" text-anchor="end">0.4</text></g>
<path d="M85.3 1186.66 L85.95 1205.66 L86.52 1123.57 L88.14 1143.34 L89.6 1157.95 L91.7 1181.16 L93.4 1201.53 L93.81 1203.4 L94.21 1205.29 L94.62 1207.21 L95.02 1209.13 L95.43 1211.08 L95.84 1213.03 L96.24 1215 L96.65 1215.83 L97.05 1213.85 L97.46 1211.86 L97.86 1209.86 L98.27 1207.87 L98.67 1205.88 L99.08 1203.89 L99.48 1201.9 L99.89 1199.91 L100.29 1197.94 L100.7 1195.97 L101.1 1194.02 L101.51 1192.08 L101.91 1190.15 L102.32 1188.24 L102.72 1186.35 L103.13 1184.48 L103.53 1182.63 L103.94 1180.8 L104.34 1179 L104.75 1177.23 L105.15 1175.49 L105.56 1173.78 L105.97 1172.1 L106.37 1170.46 L106.78 1168.85 L107.18 1167.29 L107.59 1165.76 L107.99 1164.28 L108.4 1162.84 L108.8 1161.45 L109.21 1160.11 L109.61 1158.81 L110.02 1157.57 L110.42 1156.38 L110.83 1155.24 L111.23 1154.15 L111.64 1153.11 L112.04 1152.11 L112.45 1151.16 L112.85 1150.26 L113.26 1149.41 L113.66 1148.6 L114.07 1147.84 L114.47 1147.11 L114.88 1146.44 L115.28 1145.8 L115.69 1145.21 L116.1 1144.65 L116.5 1144.14 L116.91 1143.66 L117.31 1143.23 L117.72 1142.83 L118.12 1142.47 L118.53 1142.16 L118.93 1141.9 L119.34 1141.73 L119.74 1141.63 L120.15 1141.63 L120.55 1141.74 L120.96 1141.96 L121.36 1142.32 L121.77 1142.82 L122.17 1143.47 L122.58 1144.29 L122.98 1145.29 L123.39 1146.47 L123.79 1147.86 L124.2 1149.46 L124.6 1151.28 L125.01 1153.34 L125.41 1155.65 L125.82 1158.21 L126.23 1161.04 L126.63 1164.13 L127.04 1167.44 L127.44 1170.97 L127.85 1174.7 L128.25 1178.6 L128.66 1182.66 L129.06 1186.86 L129.47 1191.18 L129.87 1195.6 L130.28 1200.1 L130.68 1204.66 L131.09 1209.27 L131.49 1213.9 L131.9 1214.26 L132.3 1209.64 L132.71 1205.04 L133.11 1200.5 L133.52 1196.03 L133.92 1191.65 L134.33 1187.37 L134.73 1183.2 L135.14 1179.16 L135.54 1175.24 L135.95 1171.44 L136.36 1167.79 L136.76 1164.27 L137.17 1160.91 L137.57 1157.69 L137.98 1154.63 L138.38 1151.74 L138.79 1149.01 L139.19 1146.46 L139.6 1144.09 L140 1141.91 L140.41 1139.92 L140.81 1138.12 L141.22 1136.53 L141.62 1135.14 L142.03 1133.97 L142.43 1133.02 L142.84 1132.28 L143.24 1131.75 L143.65 1131.42 L144.05 1131.29 L144.46 1131.35 L144.86 1131.59 L145.27 1132.02 L145.67 1132.62 L146.08 1133.38 L146.49 1134.31 L146.89 1135.39 L147.3 1136.63 L147.7 1138.01 L148.11 1139.53 L148.51 1141.18 L148.92 1142.96 L149.32 1144.86 L149.73 1146.88 L150.13 1149.02 L150.54 1151.25 L150.94 1153.58 L151.35 1156 L151.75 1158.5 L152.16 1161.06 L152.56 1163.69 L152.97 1166.37 L153.37 1169.09 L153.78 1171.84 L154.18 1174.62 L154.59 1177.41 L154.99 1180.21 L155.4 1183.01 L155.8 1185.8 L156.21 1188.57 L156.62 1191.31 L157.02 1194.01 L157.43 1196.66 L157.83 1199.26 L158.24 1201.79 L158.64 1204.25 L159.05 1206.64 L159.45 1208.96 L159.86 1211.22 L160.26 1213.41 L160.67 1215.55 L161.07 1215.18 L161.48 1213.15 L161.88 1211.18 L162.29 1209.26 L162.69 1207.38 L163.1 1205.55 L163.5 1203.75 L163.91 1201.99 L164.31 1200.27 L164.72 1198.58 L165.12 1196.92 L165.53 1195.28 L165.93 1193.67 L166.34 1192.08 L166.75 1190.5 L167.15 1188.95 L167.56 1187.41 L167.96 1185.9 L168.37 1184.41 L168.77 1182.94 L169.18 1181.5 L169.58 1180.09 L169.99 1178.7 L170.39 1177.34 L170.8 1176.02 L171.2 1174.72 L171.61 1173.46 L172.01 1172.24 L172.42 1171.05 L172.82 1169.9 L173.23 1168.78 L173.63 1167.71 L174.04 1166.68 L174.44 1165.69 L174.85 1164.74 L175.25 1163.84 L175.66 1162.99 L176.06 1162.19 L176.47 1161.43 L176.88 1160.73 L177.28 1160.08 L177.69 1159.48 L178.09 1158.94 L178.5 1158.46 L178.9 1158.03 L179.31 1157.67 L179.71 1157.37 L180.12 1157.13 L180.52 1156.95 L180.93 1156.84 L181.33 1156.8 L181.74 1156.83 L182.14 1156.92 L182.55 1157.09 L185.38 1161.39 L187.82 1156.24 L189.44 1163.97 L190.65 1166.03 L192.68 1163.11 L193.49 1174.28 L195.92 1162.25 L197.14 1169.99 L198.76 1161.22 L199.16 1160.86 L199.57 1160.52 L199.97 1160.2 L200.38 1159.9 L200.78 1159.62 L201.19 1159.36 L201.59 1159.13 L202 1158.91 L202.4 1158.71 L202.81 1158.54 L203.21 1158.39 L203.62 1158.26 L204.02 1158.16 L204.43 1158.08 L204.83 1158.02 L205.24 1157.99 L205.64 1157.99 L206.05 1158.01 L206.45 1158.05 L206.86 1158.13 L207.27 1158.23 L207.67 1158.35 L208.08 1158.5 L208.48 1158.68 L208.89 1158.87 L209.29 1159.09 L209.7 1159.34 L210.1 1159.6 L210.51 1159.88 L210.91 1160.18 L211.32 1160.49 L211.72 1160.83 L212.13 1161.18 L212.53 1161.54 L212.94 1161.92 L213.34 1162.31 L213.75 1162.71 L214.15 1163.12 L214.56 1163.54 L214.96 1163.97 L215.37 1164.41 L215.77 1164.85 L216.18 1165.31 L216.58 1165.76 L216.99 1166.22 L217.4 1166.68 L217.8 1167.15 L218.21 1167.61 L218.61 1168.08 L219.02 1168.54 L219.42 1169.01 L219.83 1169.47 L220.23 1169.92 L220.64 1170.37 L221.04 1170.82 L221.45 1171.25 L221.85 1171.68 L222.26 1172.1 L222.66 1172.51 L223.07 1172.91 L223.47 1173.3 L223.88 1173.67 L224.28 1174.04 L224.69 1174.39 L225.09 1174.73 L225.5 1175.07 L225.9 1175.39 L226.31 1175.71 L226.71 1176.02 L227.12 1176.33 L227.53 1176.62 L227.93 1176.91 L228.34 1177.2 L228.74 1177.48 L229.15 1177.76 L229.55 1178.03 L229.96 1178.3 L230.36 1178.57 L230.77 1178.83 L231.17 1179.1 L231.58 1179.36 L231.98 1179.62 L232.39 1179.89 L232.79 1180.15 L233.2 1180.41 L233.6 1180.68 L234.01 1180.94 L234.41 1181.21 L234.82 1181.47 L235.22 1181.74 L235.63 1182.01 L236.03 1182.29 L236.44 1182.56 L236.84 1182.84 L237.25 1183.13 L237.66 1183.41 L238.06 1183.7 L238.47 1184 L238.87 1184.29 L239.28 1184.6 L239.68 1184.91 L240.09 1185.22 L240.49 1185.53 L240.9 1185.85 L241.3 1186.16 L241.71 1186.47 L242.11 1186.78 L242.52 1187.08 L242.92 1187.38 L243.33 1187.67 L243.73 1187.94 L244.14 1188.21 L244.54 1188.46 L244.95 1188.7 L245.35 1188.92 L245.76 1189.13 L246.16 1189.32 L246.57 1189.49 L246.97 1189.63 L247.38 1189.76 L247.79 1189.85 L248.19 1189.93 L248.6 1189.99 L249 1190.03 L249.41 1190.05 L249.81 1190.06 L250.22 1190.06 L250.62 1190.06 L251.03 1190.04 L251.43 1190.03 L251.84 1190.01 L252.24 1189.99 L252.65 1189.98 L253.05 1189.97 L253.46 1189.97 L253.86 1189.98 L254.27 1190.01 L254.67 1190.05 L255.08 1190.11 L255.48 1190.19 L255.89 1190.29 L256.29 1190.41 L256.7 1190.55 L257.1 1190.72 L257.51 1190.9 L257.92 1191.11 L258.32 1191.34 L258.73 1191.58 L259.13 1191.85 L259.54 1192.14 L259.94 1192.45 L260.35 1192.77 L260.75 1193.12 L261.16 1193.48 L261.56 1193.86 L261.97 1194.26 L262.37 1194.68 L262.78 1195.11 L263.18 1195.56 L263.59 1196.03 L263.99 1196.51 L264.4 1197.01 L264.8 1197.53 L265.21 1198.06 L265.61 1198.6 L266.02 1199.15 L266.42 1199.71 L266.83 1200.29 L267.23 1200.87 L267.64 1201.47 L268.05 1202.07 L268.45 1202.68 L268.86 1203.3 L269.26 1203.92 L269.67 1204.54 L270.07 1205.17 L270.48 1205.81 L270.88 1206.44 L271.29 1207.08 L271.69 1207.72 L272.1 1208.36 L272.5 1209 L272.91 1209.64 L273.31 1210.28 L273.72 1210.93 L274.12 1211.59 L274.53 1212.25 L274.93 1212.92 L275.34 1213.6 L275.74 1214.29 L276.15 1214.99 L276.55 1215.7 L276.96 1216.37 L277.36 1215.63 L277.77 1214.88 L278.18 1214.1 L278.58 1213.31 L278.99 1212.5 L279.39 1211.67 L279.8 1210.81 L280.2 1209.94 L280.61 1209.04 L281.01 1208.11 L281.42 1207.17 L281.82 1206.19 L282.23 1205.2 L282.63 1204.17 L283.04 1203.12 L283.44 1202.05 L283.85 1200.94 L284.25 1199.81 L284.66 1198.65 L285.06 1197.46 L285.47 1196.25 L285.87 1195 L286.28 1193.72 L286.68 1192.41 L287.09 1191.07 L287.49 1189.7 L287.9 1188.29 L288.31 1186.86 L288.71 1185.39 L289.12 1183.88 L289.52 1182.35 L289.93 1180.77 L290.33 1179.16 L290.74 1177.52 L291.14 1175.84 L291.55 1174.13 L291.95 1172.37 L292.36 1170.58 L292.76 1168.75 L293.17 1166.89 L293.57 1164.98 L293.98 1163.04 L294.38 1161.05 L294.79 1159.03 L295.19 1156.96 L295.6 1154.86 L296 1152.71 L296.41 1150.52 L296.81 1148.29 L297.22 1146.02 L297.62 1143.72 L298.03 1141.38 L298.44 1139.01 L298.84 1136.61 L299.25 1134.17 L299.65 1131.72 L300.06 1129.23 L300.46 1126.72 L300.87 1124.19 L301.27 1121.64 L301.68 1119.07 L302.08 1116.49 L302.49 1113.89 L302.89 1111.27 L303.3 1108.65 L303.7 1106.02 L304.11 1103.38 L304.51 1100.73 L304.92 1098.08 L305.32 1095.43 L305.73 1092.77 L306.13 1090.12 L306.54 1087.47 L306.94 1084.82 L307.35 1082.18 L307.75 1079.54 L308.16 1076.91 L308.57 1074.29 L308.97 1071.69 L309.38 1069.09 L309.78 1066.51 L310.19 1063.94 L310.59 1061.39 L311 1058.85 L311.4 1056.34 L311.81 1053.85 L312.21 1051.38 L312.62 1048.93 L313.02 1046.51 L313.43 1044.13 L313.83 1041.78 L314.24 1039.47 L314.64 1037.21 L315.05 1035 L315.45 1032.85 L315.86 1030.75 L316.26 1028.72 L316.67 1026.76 L317.07 1024.87 L317.48 1023.05 L317.88 1021.32 L318.29 1019.67 L318.7 1018.11 L319.1 1016.65 L319.51 1015.28 L319.91 1014.02 L320.32 1012.87 L320.72 1011.83 L321.13 1010.9 L321.53 1010.09 L321.94 1009.39 L322.34 1008.81 L322.75 1008.35 L323.15 1008 L323.56 1007.78 L323.96 1007.68 L324.37 1007.71 L324.77 1007.86 L325.18 1008.13 L325.58 1008.53 L325.99 1009.07 L326.39 1009.73 L326.8 1010.52 L327.2 1011.44 L327.61 1012.5 L328.01 1013.69 L328.42 1015.02 L328.83 1016.48 L329.23 1018.07 L329.64 1019.78 L330.04 1021.59 L330.45 1023.5 L330.85 1025.5 L331.26 1027.57 L331.66 1029.7 L332.07 1031.89 L332.47 1034.12 L332.88 1036.38 L333.28 1038.67 L333.69 1040.97 L334.09 1043.27 L334.5 1045.56 L334.9 1047.84 L335.31 1050.08 L335.71 1052.28 L336.12 1054.44 L336.52 1056.53 L336.93 1058.56 L337.33 1060.51 L337.74 1062.4 L338.14 1064.22 L338.55 1065.97 L338.96 1067.65 L339.36 1069.27 L339.77 1070.83 L340.17 1072.32 L340.58 1073.76 L340.98 1075.13 L341.39 1076.44 L341.79 1077.69 L342.2 1078.88 L342.6 1080.02 L343.01 1081.1 L343.41 1082.13 L343.82 1083.11 L344.22 1084.03 L344.63 1084.9 L345.03 1085.72 L345.44 1086.49 L345.84 1087.21 L346.25 1087.9 L346.65 1088.54 L347.06 1089.15 L347.46 1089.72 L347.87 1090.27 L348.27 1090.78 L348.68 1091.27 L349.09 1091.74 L349.49 1092.18 L349.9 1092.61 L350.3 1093.03 L350.71 1093.43 L351.11 1093.83 L351.52 1094.22 L351.92 1094.61 L352.33 1094.99 L352.73 1095.38 L353.14 1095.78 L353.54 1096.17 L353.95 1096.58 L354.35 1096.98 L354.76 1097.39 L355.16 1097.79 L355.57 1098.2 L355.97 1098.6 L356.38 1099 L356.78 1099.4 L357.19 1099.79 L357.59 1100.18 L358 1100.56 L358.4 1100.93 L358.81 1101.29 L359.22 1101.65 L359.62 1101.99 L360.03 1102.32 L360.43 1102.64 L360.84 1102.95 L361.24 1103.24 L361.65 1103.51 L362.05 1103.78 L362.46 1104.03 L362.86 1104.27 L363.27 1104.5 L363.67 1104.72 L364.08 1104.93 L364.48 1105.14 L364.89 1105.34 L365.29 1105.54 L365.7 1105.73 L366.1 1105.92 L366.51 1106.11 L366.91 1106.29 L367.32 1106.48 L367.72 1106.67 L368.13 1106.86 L368.53 1107.05 L368.94 1107.24 L369.35 1107.44 L369.75 1107.65 L370.16 1107.86 L370.56 1108.07 L370.97 1108.28 L371.37 1108.5 L371.78 1108.72 L372.18 1108.93 L372.59 1109.15 L372.99 1109.37 L373.4 1109.58 L373.8 1109.8 L374.21 1110.01 L374.61 1110.22 L375.02 1110.42 L375.42 1110.62 L375.83 1110.82 L376.23 1111.01 L376.64 1111.19 L377.04 1111.37 L377.45 1111.54 L377.85 1111.7 L378.26 1111.85 L378.66 1112 L379.07 1112.14 L379.48 1112.27 L379.88 1112.39 L380.29 1112.5 L380.69 1112.6 L381.1 1112.7 L381.5 1112.78 L381.91 1112.86 L382.31 1112.92 L382.72 1112.98 L383.12 1113.02 L383.53 1113.06 L383.93 1113.08 L384.34 1113.09 L384.74 1113.1 L385.15 1113.09 L385.55 1113.07 L385.96 1113.04 L386.36 1113 L386.77 1112.94 L387.17 1112.88 L387.58 1112.8 L387.98 1112.72 L388.39 1112.62 L388.79 1112.51 L389.2 1112.39 L389.61 1112.26 L390.01 1112.12 L390.42 1111.96 L390.82 1111.8 L391.23 1111.63 L391.63 1111.44 L392.04 1111.25 L392.44 1111.04 L392.85 1110.82 L393.25 1110.6 L393.66 1110.36 L394.06 1110.11 L394.47 1109.85 L394.87 1109.59 L395.28 1109.31 L395.68 1109.03 L396.09 1108.74 L396.49 1108.45 L396.9 1108.15 L397.3 1107.84 L397.71 1107.53 L398.11 1107.22 L398.52 1106.9 L398.92 1106.59 L399.33 1106.27 L399.74 1105.95 L400.14 1105.62 L400.55 1105.3 L400.95 1104.98 L401.36 1104.67 L401.76 1104.35 L402.17 1104.03 L402.57 1103.72 L402.98 1103.41 L403.38 1103.1 L403.79 1102.8 L404.19 1102.49 L404.6 1102.19 L405 1101.88 L405.41 1101.58 L405.81 1101.29 L406.22 1100.99 L406.62 1100.69 L407.03 1100.4 L407.43 1100.1 L407.84 1099.81 L408.24 1099.52 L408.65 1099.23 L409.05 1098.94 L409.46 1098.65 L409.87 1098.36 L410.27 1098.07 L410.68 1097.79 L411.08 1097.5 L411.49 1097.22 L411.89 1096.94 L412.3 1096.66 L412.7 1096.38 L413.11 1096.1 L413.51 1095.83 L413.92 1095.55 L414.32 1095.28 L414.73 1095.02 L415.13 1094.75 L415.54 1094.49 L415.94 1094.23 L416.35 1093.98 L416.75 1093.73 L417.16 1093.48 L417.56 1093.23 L417.97 1092.99 L418.37 1092.75 L418.78 1092.52 L419.18 1092.28 L419.59 1092.05 L420 1091.81 L420.4 1091.57 L420.81 1091.32 L421.21 1091.08 L421.62 1090.82 L422.02 1090.56 L422.43 1090.29 L422.83 1090.01 L423.24 1089.73 L423.64 1089.43 L424.05 1089.12 L424.45 1088.79 L424.86 1088.46 L425.26 1088.1 L425.67 1087.73 L426.07 1087.35 L426.48 1086.95 L426.88 1086.54 L427.29 1086.12 L427.69 1085.69 L428.1 1085.27 L428.5 1084.85 L428.91 1084.43 L429.31 1084.02 L429.72 1083.62 L430.13 1083.24 L430.53 1082.88 L430.94 1082.54 L431.34 1082.22 L431.75 1081.93 L432.15 1081.68 L432.56 1081.46 L432.96 1081.27 L433.37 1081.13 L433.77 1081.03 L434.18 1080.98 L434.58 1080.97 L434.99 1080.99 L435.39 1081.05 L435.8 1081.14 L436.2 1081.25 L436.61 1081.38 L437.01 1081.52 L437.42 1081.66 L437.82 1081.81 L438.23 1081.96 L438.63 1082.1 L439.04 1082.22 L439.44 1082.33 L439.85 1082.41 L440.26 1082.47 L440.66 1082.5 L441.07 1082.48 L441.47 1082.42 L441.88 1082.32 L442.28 1082.16 L442.69 1081.95 L443.09 1081.7 L443.5 1081.4 L443.9 1081.06 L444.31 1080.68 L444.71 1080.26 L445.12 1079.81 L445.52 1079.33 L445.93 1078.82 L446.33 1078.29 L446.74 1077.74 L447.14 1077.16 L447.55 1076.57 L447.95 1075.97 L448.36 1075.36 L448.76 1074.74 L449.17 1074.12 L449.57 1073.49 L449.98 1072.86 L450.39 1072.24 L450.79 1071.62 L451.2 1071 L451.6 1070.38 L452.01 1069.76 L452.41 1069.14 L452.82 1068.5 L453.22 1067.87 L453.63 1067.22 L454.03 1066.56 L454.44 1065.9 L454.84 1065.21 L455.25 1064.52 L455.65 1063.81 L456.06 1063.08 L456.46 1062.33 L456.87 1061.56 L457.27 1060.77 L457.68 1059.95 L458.08 1059.11 L458.49 1058.24 L458.89 1057.35 L459.3 1056.43 L459.7 1055.49 L460.11 1054.52 L460.52 1053.53 L460.92 1052.51 L461.33 1051.48 L461.73 1050.42 L462.14 1049.35 L462.54 1048.25 L462.95 1047.13 L463.35 1046 L463.76 1044.85 L464.16 1043.68 L464.57 1042.5 L464.97 1041.3 L465.38 1040.09 L465.78 1038.86 L466.19 1037.62 L466.59 1036.37 L467 1035.11 L467.4 1033.84 L467.81 1032.55 L468.21 1031.26 L468.62 1029.95 L469.02 1028.64 L469.43 1027.32 L469.83 1025.99 L470.24 1024.65 L470.65 1023.31 L471.05 1021.96 L471.46 1020.6 L471.86 1019.24 L472.27 1017.87 L472.67 1016.5 L473.08 1015.12 L473.48 1013.74 L473.89 1012.36 L474.29 1010.98 L474.7 1009.59 L475.1 1008.21 L475.51 1006.82 L475.91 1005.43 L476.32 1004.03 L476.72 1002.64 L477.13 1001.24 L477.53 999.85 L477.94 998.45 L478.34 997.05 L478.75 995.64 L479.15 994.24 L479.56 992.84 L479.96 991.43 L480.37 990.02 L480.78 988.61 L481.18 987.2 L481.59 985.79 L481.99 984.37 L482.4 982.96 L482.8 981.54 L483.21 980.13 L483.61 978.71 L484.02 977.29 L484.42 975.87 L484.83 974.44 L485.23 973.02 L485.64 971.6 L486.04 970.17 L486.45 968.74 L486.85 967.32 L487.26 965.89 L487.66 964.46 L488.07 963.03 L488.47 961.6 L488.88 960.16 L489.28 958.73 L489.69 957.3 L490.09 955.86 L490.5 954.42" fill="none" stroke="#B8161C" stroke-width="2.3" stroke-linejoin="round"/>
<g fill="#7FA6E0" stroke="#0C1540" stroke-width="1.5"><circle cx="85.3" cy="1186.66" r="2.9"/><circle cx="93.4" cy="1201.53" r="2.9"/><circle cx="101.51" cy="1192.08" r="2.9"/><circle cx="109.61" cy="1158.81" r="2.9"/><circle cx="117.72" cy="1142.83" r="2.9"/><circle cx="125.82" cy="1158.21" r="2.9"/><circle cx="133.92" cy="1191.65" r="2.9"/><circle cx="142.03" cy="1133.97" r="2.9"/><circle cx="150.13" cy="1149.02" r="2.9"/><circle cx="158.24" cy="1201.79" r="2.9"/><circle cx="166.34" cy="1192.08" r="2.9"/><circle cx="174.44" cy="1165.69" r="2.9"/><circle cx="182.55" cy="1157.09" r="2.9"/><circle cx="190.65" cy="1166.03" r="2.9"/><circle cx="198.76" cy="1161.22" r="2.9"/><circle cx="206.86" cy="1158.13" r="2.9"/><circle cx="214.96" cy="1163.97" r="2.9"/><circle cx="223.07" cy="1172.91" r="2.9"/><circle cx="231.17" cy="1179.1" r="2.9"/><circle cx="239.28" cy="1184.6" r="2.9"/><circle cx="247.38" cy="1189.76" r="2.9"/><circle cx="255.48" cy="1190.19" r="2.9"/><circle cx="263.59" cy="1196.03" r="2.9"/><circle cx="271.69" cy="1207.72" r="2.9"/><circle cx="279.8" cy="1210.81" r="2.9"/><circle cx="287.9" cy="1188.29" r="2.9"/><circle cx="296" cy="1152.71" r="2.9"/><circle cx="304.11" cy="1103.38" r="2.9"/><circle cx="312.21" cy="1051.38" r="2.9"/><circle cx="320.32" cy="1012.87" r="2.9"/><circle cx="328.42" cy="1015.02" r="2.9"/><circle cx="336.52" cy="1056.53" r="2.9"/><circle cx="344.63" cy="1084.9" r="2.9"/><circle cx="352.73" cy="1095.38" r="2.9"/><circle cx="360.84" cy="1102.95" r="2.9"/><circle cx="368.94" cy="1107.24" r="2.9"/><circle cx="377.04" cy="1111.37" r="2.9"/><circle cx="385.15" cy="1113.09" r="2.9"/><circle cx="393.25" cy="1110.6" r="2.9"/><circle cx="401.36" cy="1104.67" r="2.9"/><circle cx="409.46" cy="1098.65" r="2.9"/><circle cx="417.56" cy="1093.23" r="2.9"/><circle cx="425.67" cy="1087.73" r="2.9"/><circle cx="433.77" cy="1081.03" r="2.9"/><circle cx="441.88" cy="1082.32" r="2.9"/><circle cx="449.98" cy="1072.86" r="2.9"/><circle cx="458.08" cy="1059.11" r="2.9"/><circle cx="466.19" cy="1037.62" r="2.9"/><circle cx="474.29" cy="1010.98" r="2.9"/><circle cx="482.4" cy="982.96" r="2.9"/><circle cx="490.5" cy="954.42" r="2.9"/></g>
<text x="85.5" y="42.7" font-family="'Liberation Serif','Times New Roman',serif" font-size="24.5" font-weight="bold" fill="#000" text-anchor="start">(a)</text>
<text x="139.8" y="86.9" font-family="'Liberation Serif','Times New Roman',serif" font-size="23.9" font-weight="bold" fill="#000" text-anchor="middle">Return flow</text>
<text x="143" y="112.5" font-family="'Liberation Serif','Times New Roman',serif" font-size="23.5" font-weight="bold" fill="#000" text-anchor="middle">region</text>
<path d="M109.4 125.2L84.37 237.88" stroke="#000" stroke-width="3" fill="none"/>
<path d="M80.9 253.5L79.9 235.86L89.27 237.95z" fill="#000"/>
<circle cx="81" cy="275" r="19.8" fill="none" stroke="#000" stroke-width="4.3" stroke-dasharray="4.3 5.2" stroke-dashoffset="2"/>
<circle cx="144" cy="167.5" r="26.5" fill="none" stroke="#DC7232" stroke-width="3.3" stroke-dasharray="3.3 3.6000000000000005"/>
<circle cx="189.5" cy="220.1" r="12.6" fill="none" stroke="#DC7232" stroke-width="3.0" stroke-dasharray="3.0 3.9000000000000004"/>
<circle cx="324.3" cy="73" r="26.5" fill="none" stroke="#DC7232" stroke-width="3.3" stroke-dasharray="3.3 3.6000000000000005"/>
<path d="M189 137.3L167.91 143.09" stroke="#DC7232" stroke-width="3" fill="none"/>
<path d="M157.3 146L167.65 138.39L170.09 147.26z" fill="#DC7232"/>
<path d="M213.9 159.2L198.88 196.04" stroke="#DC7232" stroke-width="3" fill="none"/>
<path d="M193.6 209L195 193.37L203.52 196.85z" fill="#DC7232"/>
<path d="M259.7 117.2L287.04 91.82" stroke="#DC7232" stroke-width="3" fill="none"/>
<path d="M297.3 82.3L289.71 96.17L282.9 88.84z" fill="#DC7232"/>
<text x="206.2" y="144.8" font-family="'Liberation Serif','Times New Roman',serif" font-size="24" font-weight="bold" fill="#CA0010" text-anchor="start">Shock</text>
<path d="M93.9 308.8L119.8 321.7" stroke="#000" stroke-width="2.6" fill="none"/>
<path d="M130.8 204.4L155.8 206.9" stroke="#000" stroke-width="2.6" fill="none"/>
<path d="M313.2 91.8L335.4 104.5" stroke="#000" stroke-width="2.6" fill="none"/>
<path d="M252.7 222.7L267.7 241.9" stroke="#000" stroke-width="2.6" fill="none"/>
<path d="M442.1 130L458.1 146" stroke="#000" stroke-width="2.6" fill="none"/>
<path d="M494 41.2L517.1 52.7" stroke="#000" stroke-width="2.6" fill="none"/>
<path d="M193.8 298.8L156.4 260.63" stroke="#4472C4" stroke-width="3" fill="none"/>
<path d="M145.2 249.2L160.81 257.7L153.38 264.98z" fill="#4472C4"/>
<path d="M324.2 270L306.5 222.69" stroke="#4472C4" stroke-width="3" fill="none"/>
<path d="M300.9 207.7L311.73 221.8L301.98 225.44z" fill="#4472C4"/>
<path d="M410.8 267.5L451.02 164.01" stroke="#4472C4" stroke-width="3" fill="none"/>
<path d="M457.9 146.3L455.32 166.75L446 163.13z" fill="#4472C4"/>
<path d="M129.5 301.5 Q146 282 150.4 233" fill="none" stroke="#4066B0" stroke-width="2.6" stroke-dasharray="2.4 3"/>
<path d="M113.1 315.6L125.1 298.68L132.06 307.19z" fill="#4472C4"/>
<path d="M149.6 211.7L155.47 232.22L147.91 232.97z" fill="#4472C4"/>
<path d="M287.5 224 Q304 208 314 183 Q325 155 333 130" fill="none" stroke="#4066B0" stroke-width="2.6" stroke-dasharray="2.4 3"/>
<path d="M268 235.4L283.42 220.12L288.93 229.64z" fill="#4472C4"/>
<path d="M335 109.9L337.19 130.22L328.83 129.38z" fill="#4472C4"/>
<path d="M476 130.5 Q494 108 505.5 78" fill="none" stroke="#4066B0" stroke-width="2.6" stroke-dasharray="2.4 3"/>
<path d="M459.4 146L472.39 129.83L478.83 138.74z" fill="#4472C4"/>
<path d="M511.3 56.6L509.68 77.95L501.59 75.69z" fill="#4472C4"/>
<text x="211" y="294.2" font-family="'Liberation Serif','Times New Roman',serif" font-size="23.9" font-weight="bold" fill="#4472C4" text-anchor="start">Expansion of primary</text>
<text x="211" y="313.5" font-family="'Liberation Serif','Times New Roman',serif" font-size="23.9" font-weight="bold" fill="#4472C4" text-anchor="start">flow centre area</text>
<path d="M411.6 313.5L439.3 313.5" stroke="#0A10DC" stroke-width="2" fill="none"/>
<path d="M411.6 333.8L439.3 333.8" stroke="#BA121C" stroke-width="1.6" fill="none"/>
<path d="M423.35 311.35h4.3v4.3h-4.3z" fill="#929CEE" stroke="#08083C" stroke-width="1.5"/>
<g fill="#CDEFC4" stroke="#000" stroke-width="1.6"><circle cx="425.5" cy="333.8" r="2.9"/></g>
<text x="442.3" y="320.4" font-family="'Liberation Serif','Times New Roman',serif" font-size="18.2" font-weight="bold" fill="#000" text-anchor="start">CCS</text>
<text x="442.3" y="340.6" font-family="'Liberation Serif','Times New Roman',serif" font-size="18.2" font-weight="bold" fill="#000" text-anchor="start">FBCS</text>
<text x="289.7" y="403.1" font-family="'Liberation Serif','Times New Roman',serif" font-size="22.3" font-weight="bold" fill="#000" text-anchor="middle">Mixing region [m]</text>
<text x="88" y="474.2" font-family="'Liberation Serif','Times New Roman',serif" font-size="24.2" font-weight="bold" fill="#000" text-anchor="start">(b)</text>
<text x="122.3" y="482.3" font-family="'Liberation Serif','Times New Roman',serif" font-size="23.9" font-weight="bold" fill="#CA0010" text-anchor="start">Primary flow</text>
<text x="130.6" y="501.6" font-family="'Liberation Serif','Times New Roman',serif" font-size="24.1" font-weight="bold" fill="#CA0010" text-anchor="start">shock</text>
<text x="202.2" y="501.6" font-family="'Liberation Serif','Times New Roman',serif" font-size="24.4" font-weight="bold" fill="#CA0010" text-anchor="start">cross</text>
<path d="M152.9 524.3L142.54 560.44" stroke="#000" stroke-width="3" fill="none"/>
<path d="M137.3 578.7L138.49 558.23L147.14 560.72z" fill="#000"/>
<ellipse cx="137.8" cy="652" rx="9.5" ry="100" transform="rotate(-5.8 137.8 652)" fill="none" stroke="#2E1A12" stroke-width="3.2" stroke-dasharray="3.2 3.6"/>
<ellipse cx="188.5" cy="696" rx="11" ry="29" transform="rotate(-10.5 188.5 696)" fill="none" stroke="#2E1A12" stroke-width="3.2" stroke-dasharray="3.2 3.6"/>
<ellipse cx="319.9" cy="682.1" rx="9.5" ry="70" transform="rotate(-6.4 319.9 682.1)" fill="none" stroke="#2E1A12" stroke-width="3.2" stroke-dasharray="3.2 3.6"/>
<path d="M152.7 748L152.7 766.5" stroke="#000" stroke-width="2.6" fill="none"/>
<path d="M186.2 704.6L186.2 765.8" stroke="#000" stroke-width="2.6" fill="none"/>
<path d="M195.8 650L195.8 716" stroke="#000" stroke-width="2.6" fill="none"/>
<path d="M244.7 650.7L244.7 681" stroke="#000" stroke-width="2.6" fill="none"/>
<path d="M335.4 651.6L335.4 741.5" stroke="#000" stroke-width="2.6" fill="none"/>
<path d="M431.4 647.9L431.4 675.3" stroke="#000" stroke-width="2.6" fill="none"/>
<path d="M161 759.6H178" stroke="#4A2A1A" stroke-width="2.4" stroke-dasharray="2.4 3"/>
<path d="M154 759.6L162.5 756L162.5 763.2z" fill="#4A2A1A"/>
<path d="M185 759.6L176.5 763.2L176.5 756z" fill="#4A2A1A"/>
<path d="M204 652.7H236" stroke="#5070AC" stroke-width="2.2" stroke-dasharray="2.2 3"/>
<path d="M196.5 652.7L205 649.1L205 656.3z" fill="#5070AC"/>
<path d="M244 652.7L235.5 656.3L235.5 649.1z" fill="#5070AC"/>
<path d="M346 653.5H422" stroke="#5070AC" stroke-width="2.2" stroke-dasharray="2.2 3"/>
<path d="M337.7 653.5L346.2 649.9L346.2 657.1z" fill="#5070AC"/>
<path d="M430.5 653.5L422 657.1L422 649.9z" fill="#5070AC"/>
<path d="M292.2 566.1L230.17 636.59" stroke="#4472C4" stroke-width="3" fill="none"/>
<path d="M219.6 648.6L226.93 632.4L234.73 639.27z" fill="#4472C4"/>
<path d="M359.9 566.1L392.13 633.95" stroke="#4472C4" stroke-width="3" fill="none"/>
<path d="M399 648.4L387.01 635.28L396.4 630.81z" fill="#4472C4"/>
<text x="360" y="531.8" font-family="'Liberation Serif','Times New Roman',serif" font-size="24" font-weight="bold" fill="#4472C4" text-anchor="middle">Secondary flow</text>
<text x="360" y="552.2" font-family="'Liberation Serif','Times New Roman',serif" font-size="24" font-weight="bold" fill="#4472C4" text-anchor="middle">&amp;mixing layer expansion</text>
<text x="256.2" y="751.4" font-family="'Liberation Serif','Times New Roman',serif" font-size="24" font-weight="bold" fill="#CA0010" text-anchor="middle">Fabri</text>
<text x="256.3" y="770.3" font-family="'Liberation Serif','Times New Roman',serif" font-size="24" font-weight="bold" fill="#CA0010" text-anchor="middle">choking</text>
<path d="M222 749.4L211.09 738.26" stroke="#000" stroke-width="2.8" fill="none"/>
<path d="M198.5 725.4L215.08 735.76L208.51 742.19z" fill="#000"/>
<path d="M362.3 764.2L343.72 757.59" stroke="#000" stroke-width="3" fill="none"/>
<path d="M327.7 751.9L346.27 753.41L343.05 762.45z" fill="#000"/>
<circle cx="128.1" cy="766" r="10.4" fill="none" stroke="#000" stroke-width="2.4"/>
<text x="128.1" y="771.9" font-family="'Liberation Serif',serif" font-size="17.5" font-weight="bold" stroke="#000" stroke-width="0.9" text-anchor="middle">1</text>
<circle cx="381.6" cy="766" r="10.4" fill="none" stroke="#000" stroke-width="2.4"/>
<text x="381.6" y="771.9" font-family="'Liberation Sans',sans-serif" font-size="17.5" font-weight="bold" stroke="#000" stroke-width="0.9" text-anchor="middle">2</text>
<path d="M406.5 458L433.4 458" stroke="#0A10DC" stroke-width="2" fill="none"/>
<path d="M406.5 478.5L433.4 478.5" stroke="#BA121C" stroke-width="1.6" fill="none"/>
<path d="M417.85 455.85h4.3v4.3h-4.3z" fill="#929CEE" stroke="#08083C" stroke-width="1.5"/>
<g fill="#CDEFC4" stroke="#000" stroke-width="1.6"><circle cx="420" cy="478.5" r="2.9"/></g>
<text x="437" y="463.8" font-family="'Liberation Serif','Times New Roman',serif" font-size="18.2" font-weight="bold" fill="#000" text-anchor="start">CCS</text>
<text x="437" y="484.6" font-family="'Liberation Serif','Times New Roman',serif" font-size="18.2" font-weight="bold" fill="#000" text-anchor="start">FBCS</text>
<text x="283.5" y="833.6" font-family="'Liberation Serif','Times New Roman',serif" font-size="22.3" font-weight="bold" fill="#000" text-anchor="middle">Mixing region [m]</text>
<text x="94.4" y="906.6" font-family="'Liberation Serif','Times New Roman',serif" font-size="23.4" font-weight="bold" fill="#000" text-anchor="start">(c)</text>
<text x="286.8" y="1268.6" font-family="'Liberation Serif','Times New Roman',serif" font-size="22.3" font-weight="bold" fill="#000" text-anchor="middle">Mixing region [m]</text>
<text transform="translate(26 203.5) rotate(-90) scale(1.15 1)" font-family="'Liberation Serif','Times New Roman',serif" font-size="24" font-style="italic" font-weight="normal" fill="#000">δ</text>
<text transform="translate(37 192) rotate(-90) scale(1.25 1)" font-family="'Liberation Serif','Times New Roman',serif" font-size="16.5" font-style="italic" font-weight="normal" fill="#000">θ</text>
<text transform="translate(26 178.5) rotate(-90)" font-family="'Liberation Serif','Times New Roman',serif" font-size="24" font-style="italic" font-weight="normal" fill="#000">/</text>
<text transform="translate(26 170.3) rotate(-90) scale(1.15 1)" font-family="'Liberation Serif','Times New Roman',serif" font-size="24" font-style="italic" font-weight="normal" fill="#000">δ</text>
<text transform="translate(37 159.8) rotate(-90)" font-family="'Liberation Serif','Times New Roman',serif" font-size="16.5" font-style="italic" font-weight="normal" fill="#000">0</text>
<text transform="translate(29 645.5) rotate(-90)" font-family="'Liberation Serif','Times New Roman',serif" font-size="22" font-style="normal" font-weight="normal" fill="#000">(</text>
<text transform="translate(28.8 636.7) rotate(-90) scale(1.15 1)" font-family="'Liberation Serif','Times New Roman',serif" font-size="24" font-style="italic" font-weight="normal" fill="#000">δ</text>
<text transform="translate(39.9 625.6) rotate(-90) scale(1.25 1)" font-family="'Liberation Serif','Times New Roman',serif" font-size="16.5" font-style="italic" font-weight="normal" fill="#000">θ</text>
<text transform="translate(28.8 612.5) rotate(-90)" font-family="'Liberation Serif','Times New Roman',serif" font-size="24" font-style="italic" font-weight="normal" fill="#000">/</text>
<text transform="translate(28.8 604.5) rotate(-90) scale(1.15 1)" font-family="'Liberation Serif','Times New Roman',serif" font-size="24" font-style="italic" font-weight="normal" fill="#000">δ</text>
<text transform="translate(39.9 593.9) rotate(-90)" font-family="'Liberation Serif','Times New Roman',serif" font-size="16.5" font-style="italic" font-weight="normal" fill="#000">0</text>
<text transform="translate(29 585) rotate(-90)" font-family="'Liberation Serif','Times New Roman',serif" font-size="22" font-style="normal" font-weight="normal" fill="#000">)</text>
<text transform="translate(16.3 578) rotate(-90)" font-family="'Liberation Serif','Times New Roman',serif" font-size="18" font-style="normal" font-weight="normal" fill="#000">′</text>
<text transform="translate(17.9 1180.5) rotate(-90)" font-family="'Liberation Serif','Times New Roman',serif" font-size="22.5" font-style="normal" font-weight="bold" fill="#000">Correction amount of (</text>
<text transform="translate(17.5 957.4) rotate(-90) scale(1.15 1)" font-family="'Liberation Serif','Times New Roman',serif" font-size="22.5" font-style="italic" font-weight="normal" fill="#000">δ</text>
<text transform="translate(29.2 947) rotate(-90) scale(1.25 1)" font-family="'Liberation Serif','Times New Roman',serif" font-size="16.5" font-style="italic" font-weight="normal" fill="#000">θ</text>
<text transform="translate(17.9 932.8) rotate(-90)" font-family="'Liberation Serif','Times New Roman',serif" font-size="22.5" font-style="italic" font-weight="normal" fill="#000">/</text>
<text transform="translate(17.5 925.3) rotate(-90) scale(1.15 1)" font-family="'Liberation Serif','Times New Roman',serif" font-size="22.5" font-style="italic" font-weight="normal" fill="#000">δ</text>
<text transform="translate(28.8 914.5) rotate(-90)" font-family="'Liberation Serif','Times New Roman',serif" font-size="16.5" font-style="italic" font-weight="normal" fill="#000">0</text>
<text transform="translate(18 906) rotate(-90)" font-family="'Liberation Serif','Times New Roman',serif" font-size="22.5" font-style="normal" font-weight="bold" fill="#000">)</text>
</svg>
</body></html>
